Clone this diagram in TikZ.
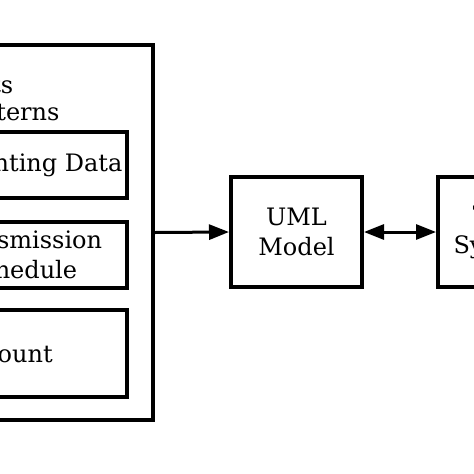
\documentclass[tikz,border=0pt]{standalone}
\usepackage{fontspec}
\setmainfont{DejaVu Serif}
\usetikzlibrary{arrows.meta}

\tikzset{
  blockbox/.style={draw, line width=4pt, inner sep=0pt, align=center,
    font=\fontsize{24}{30}\selectfont},
  flow/.style={line width=3pt, -{Triangle[length=20pt,width=15pt]}},
  twoflow/.style={line width=3pt, {Triangle[length=20pt,width=15pt]}-{Triangle[length=20pt,width=15pt]}}
}

\begin{document}
\begin{tikzpicture}[x=1pt,y=-1pt]
\useasboundingbox (0,0) rectangle (474,474);
\clip (0,0) rectangle (474,474);

% input side
\node[blockbox, minimum width=403pt, minimum height=375pt] (inputs) at (-48.5,232.5) {};
\node[font=\fontsize{24}{28}\selectfont, align=left, anchor=base east] (title) at (63,120) {\phantom{Traffic Patterns}};
\node[font=\fontsize{24}{28}\selectfont, anchor=base west] (titleA) at (title.base west) {Traffic Patterns};
\node[font=\fontsize{24}{28}\selectfont, anchor=base west] (titleB) at ([yshift=27pt]title.base west) {User Inputs};
\node[blockbox, minimum width=212pt, minimum height=66pt] (acct) at (21,165) {Accounting Data};
\node[blockbox, minimum width=212pt, minimum height=66pt] (sched) at (21,255) {Transmission\\Schedule};
\node[blockbox, minimum width=222pt, minimum height=87pt] (count) at (16,353.5) {Count};

% model and target
\node[blockbox, minimum width=131pt, minimum height=110pt] (uml) at (296.5,232) {UML\\Model};
\node[blockbox, minimum width=120pt, minimum height=110pt] (sys) at (498,232) {Test\\System};

\draw[flow] (inputs.east) -- (uml.west);
\draw[twoflow] (uml.east) -- (sys.west);

\end{tikzpicture}
\end{document}
